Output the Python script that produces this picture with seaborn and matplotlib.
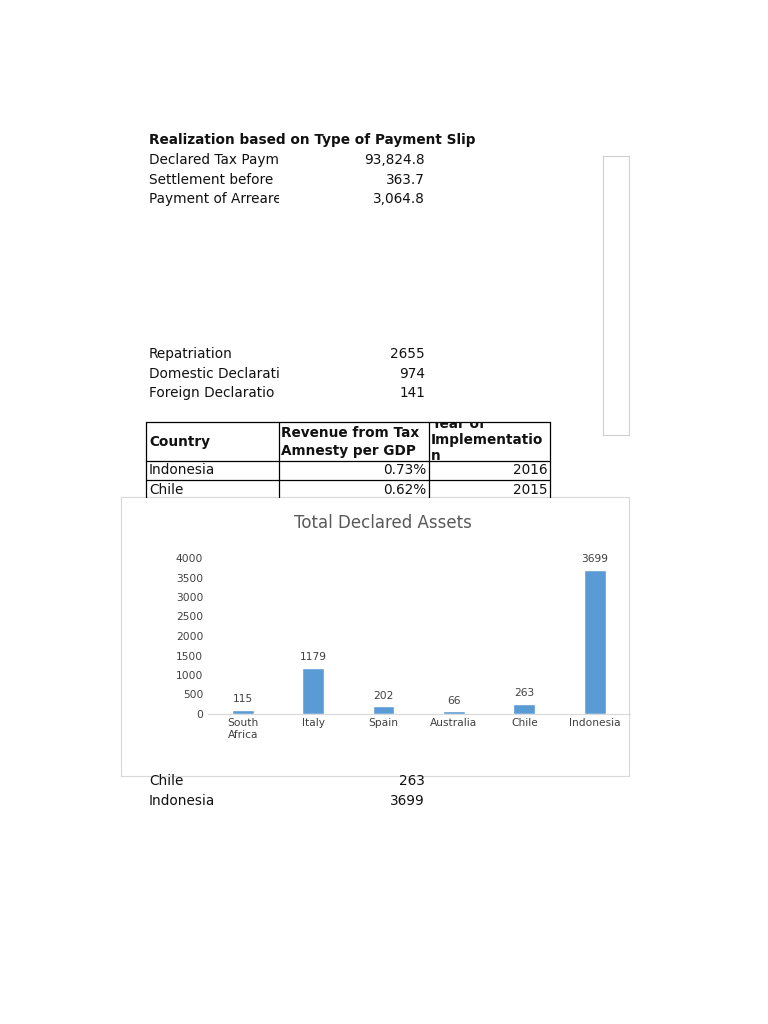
import matplotlib
matplotlib.use('Agg')
import matplotlib.pyplot as plt
from matplotlib.lines import Line2D
from matplotlib.transforms import Bbox, TransformedBbox
import seaborn as sns
import pandas as pd

# Données de la feuille (texte tel qu'il apparait dans les cellules)
slip_title = 'Realization based on Type of Payment Slip'
slip_labels = ['Declared Tax Paym', 'Settlement before', 'Payment of Arreare']
slip_values = ['93,824.8', '363.7', '3,064.8']

decl_labels = ['Repatriation', 'Domestic Declarati', 'Foreign Declaratio']
decl_values = [2655, 974, 141]

table_header = ['Country', 'Revenue from Tax\nAmnesty per GDP', 'Year of\nImplementatio\nn']
amnesty_countries = ['Indonesia', 'Chile']
amnesty_revenue = ['0.73%', '0.62%']
amnesty_year = [2016, 2015]

# Données du graphique
countries = ['South Africa', 'Italy', 'Spain', 'Australia', 'Chile', 'Indonesia']
declared = [115, 1179, 202, 66, 263, 3699]
yticks = [0, 500, 1000, 1500, 2000, 2500, 3000, 3500, 4000]

W, H = 768, 1024


def fx(x):
    return x / W


def fy(y):
    return 1 - y / H


sns.set_style('white')
plt.rcParams['font.family'] = ['DejaVu Sans']

fig = plt.figure(figsize=(W / 100, H / 100), dpi=100)


def cell(x, y, s, clip=None, **kw):
    kw.setdefault('fontsize', 9.8)
    kw.setdefault('color', '#111111')
    t = fig.text(fx(x), fy(y), s, va='center', **kw)
    if clip is not None:
        # clip = (x0, y0, x1, y1) en pixels, comme une cellule de tableur
        x0, y0, x1, y1 = clip
        bb = Bbox.from_extents(fx(x0), fy(y1), fx(x1), fy(y0))
        t.set_clip_box(TransformedBbox(bb, fig.transFigure))
        t.set_clip_on(True)
    return t


def line(x0, y0, x1, y1, color='black', lw=0.9):
    fig.add_artist(Line2D([fx(x0), fx(x1)], [fy(y0), fy(y1)], color=color, lw=lw,
                          transform=fig.transFigure))


# Bloc 1
cell(149, 140, slip_title, fontweight='bold')
for i, (lab, val) in enumerate(zip(slip_labels, slip_values)):
    y = 160 + i * 19.7
    cell(149, y, lab, clip=(140, y - 10, 279, y + 10))
    cell(425, y, val, ha='right')

# Bloc 2
for i, (lab, val) in enumerate(zip(decl_labels, decl_values)):
    y = 354 + i * 19.5
    cell(149, y, lab, clip=(140, y - 10, 279, y + 10))
    cell(425, y, str(val), ha='right')

# Tableau
for y in [422, 461, 480]:
    line(146, y, 550, y)
for x in [146, 279, 429, 550]:
    line(x, 422, x, 497)
cell(149, 442, table_header[0], fontweight='bold')
cell(281, 442, table_header[1], fontweight='bold', linespacing=1.3)
cell(431, 440, table_header[2], fontweight='bold', linespacing=1.2,
     clip=(429, 422, 550, 463))
for i, (c, r, yr) in enumerate(zip(amnesty_countries, amnesty_revenue, amnesty_year)):
    cell(149, 470 + i * 20, c)
    cell(426, 470 + i * 20, r, ha='right')
    cell(548, 470 + i * 20, str(yr), ha='right')

# Petit cadre à droite
box2 = fig.add_axes([fx(603), fy(435), (629 - 603) / W, (435 - 156) / H])
box2.set_xticks([])
box2.set_yticks([])
for s in box2.spines.values():
    s.set_color('#d0d0d0')

# Cadre du graphique
box = fig.add_axes([fx(121), fy(776), (629 - 121) / W, (776 - 497) / H])
box.set_facecolor('white')
box.set_xticks([])
box.set_yticks([])
for s in box.spines.values():
    s.set_color('#d9d9d9')

# Graphique
ax = fig.add_axes([fx(207.5), fy(714), (630 - 207.5) / W, (714 - 558) / H])
df = pd.DataFrame({'Country': countries, 'Assets': declared})
sns.barplot(data=df, x='Country', y='Assets', color='#5b9bd5', saturation=1,
            width=0.31, ax=ax)
ax.patch.set_alpha(0)
ax.set_xlim(-0.5, 5.5)
ax.set_ylim(0, 4000)
ax.set_yticks(yticks)
ax.set_xticks(range(len(countries)))
ax.set_xticklabels([c.replace(' ', '\n') for c in countries], linespacing=1.25)
ax.set_xlabel('')
ax.set_ylabel('')
ax.tick_params(length=0, labelsize=7.7, labelcolor='#404040', pad=3)
sns.despine(ax=ax, left=True)
ax.spines['bottom'].set_color('#d9d9d9')
ax.bar_label(ax.containers[0], fmt='%d', padding=4, fontsize=7.7, color='#404040')

fig.text(fx(383), fy(523), 'Total Declared Assets', ha='center', va='center',
         fontsize=12, color='#595959')

# Lignes sous le graphique
for i, (c, v) in enumerate(zip(countries[-2:], declared[-2:])):
    cell(149, 781 + i * 20, c)
    cell(425, 781 + i * 20, str(v), ha='right')

fig.savefig('out.png', dpi=100)
